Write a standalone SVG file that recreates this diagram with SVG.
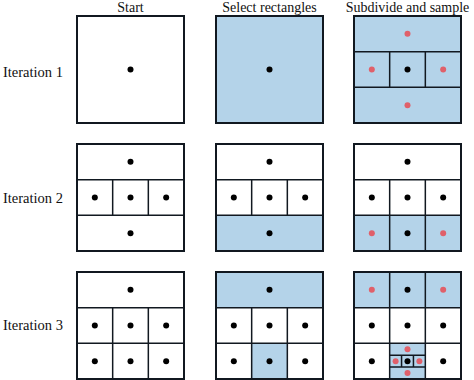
<svg xmlns="http://www.w3.org/2000/svg" width="474" height="380" viewBox="0 0 474 380">
<style>
  .hdr { text-anchor: middle; }
  .row { text-anchor: end; }
  .box { fill: #ffffff; stroke: #111820; stroke-width: 2; }
  .sel { fill: #b4d3e9; stroke: none; }
  .ln { stroke: #111820; stroke-width: 1.5; fill: none; }
  .d { fill: #000; }
  .r { fill: #e0606a; }
</style>
<defs>
  <circle id="bd" r="3" class="d"/>
  <circle id="rd" r="3" class="r"/>
</defs>
<rect width="474" height="380" fill="#fff"/>

<g id="headers" font-family="'Liberation Serif', 'DejaVu Serif', serif" font-size="14" fill="#111">
  <text class="hdr" x="130.5" y="12">Start</text>
  <text class="hdr" x="269.5" y="12">Select rectangles</text>
  <text class="hdr" x="407.5" y="12">Subdivide and sample</text>
</g>
<g id="row-labels" font-family="'Liberation Serif', 'DejaVu Serif', serif" font-size="14.5" fill="#111">
  <text class="row" x="63" y="76.5">Iteration 1</text>
  <text class="row" x="63" y="202.5">Iteration 2</text>
  <text class="row" x="63" y="330">Iteration 3</text>
</g>

<!-- Iteration 1 -->
<g id="it1-start">
  <rect class="box" x="77" y="16" width="107" height="107"/>
  <use href="#bd" x="130.5" y="69.5"/>
</g>
<g id="it1-select">
  <rect class="box" x="216" y="16" width="107" height="107" style="fill:#b4d3e9"/>
  <use href="#bd" x="269.5" y="69.5"/>
</g>
<g id="it1-subdivide">
  <rect class="box" x="354" y="16" width="107" height="107" style="fill:#b4d3e9"/>
  <path class="ln" d="M354 51.67H461M354 87.33H461M389.67 51.67V87.33M425.33 51.67V87.33"/>
  <use href="#rd" x="407.5" y="33.83"/>
  <use href="#rd" x="371.83" y="69.5"/>
  <use href="#bd" x="407.5" y="69.5"/>
  <use href="#rd" x="443.17" y="69.5"/>
  <use href="#rd" x="407.5" y="105.17"/>
</g>

<!-- Iteration 2 -->
<g id="it2-start">
  <rect class="box" x="77" y="144" width="107" height="107"/>
  <path class="ln" d="M77 179.67H184M77 215.33H184M112.67 179.67V215.33M148.33 179.67V215.33"/>
  <use href="#bd" x="130.5" y="161.83"/>
  <use href="#bd" x="94.83" y="197.5"/>
  <use href="#bd" x="130.5" y="197.5"/>
  <use href="#bd" x="166.17" y="197.5"/>
  <use href="#bd" x="130.5" y="233.17"/>
</g>
<g id="it2-select">
  <rect class="box" x="216" y="144" width="107" height="107"/>
  <rect class="sel" x="216" y="215.33" width="107" height="35.67"/>
  <rect class="box" x="216" y="144" width="107" height="107" style="fill:none"/>
  <path class="ln" d="M216 179.67H323M216 215.33H323M251.67 179.67V215.33M287.33 179.67V215.33"/>
  <use href="#bd" x="269.5" y="161.83"/>
  <use href="#bd" x="233.83" y="197.5"/>
  <use href="#bd" x="269.5" y="197.5"/>
  <use href="#bd" x="305.17" y="197.5"/>
  <use href="#bd" x="269.5" y="233.17"/>
</g>
<g id="it2-subdivide">
  <rect class="box" x="354" y="144" width="107" height="107"/>
  <rect class="sel" x="354" y="215.33" width="107" height="35.67"/>
  <rect class="box" x="354" y="144" width="107" height="107" style="fill:none"/>
  <path class="ln" d="M354 179.67H461M354 215.33H461M389.67 179.67V251M425.33 179.67V251"/>
  <use href="#bd" x="407.5" y="161.83"/>
  <use href="#bd" x="371.83" y="197.5"/>
  <use href="#bd" x="407.5" y="197.5"/>
  <use href="#bd" x="443.17" y="197.5"/>
  <use href="#rd" x="371.83" y="233.17"/>
  <use href="#bd" x="407.5" y="233.17"/>
  <use href="#rd" x="443.17" y="233.17"/>
</g>

<!-- Iteration 3 -->
<g id="it3-start">
  <rect class="box" x="77" y="272" width="107" height="107"/>
  <path class="ln" d="M77 307.67H184M77 343.33H184M112.67 307.67V379M148.33 307.67V379"/>
  <use href="#bd" x="130.5" y="289.83"/>
  <use href="#bd" x="94.83" y="325.5"/>
  <use href="#bd" x="130.5" y="325.5"/>
  <use href="#bd" x="166.17" y="325.5"/>
  <use href="#bd" x="94.83" y="361.17"/>
  <use href="#bd" x="130.5" y="361.17"/>
  <use href="#bd" x="166.17" y="361.17"/>
</g>
<g id="it3-select">
  <rect class="box" x="216" y="272" width="107" height="107"/>
  <rect class="sel" x="216" y="272" width="107" height="35.67"/>
  <rect class="sel" x="251.67" y="343.33" width="35.67" height="35.67"/>
  <rect class="box" x="216" y="272" width="107" height="107" style="fill:none"/>
  <path class="ln" d="M216 307.67H323M216 343.33H323M251.67 307.67V379M287.33 307.67V379"/>
  <use href="#bd" x="269.5" y="289.83"/>
  <use href="#bd" x="233.83" y="325.5"/>
  <use href="#bd" x="269.5" y="325.5"/>
  <use href="#bd" x="305.17" y="325.5"/>
  <use href="#bd" x="233.83" y="361.17"/>
  <use href="#bd" x="269.5" y="361.17"/>
  <use href="#bd" x="305.17" y="361.17"/>
</g>
<g id="it3-subdivide">
  <rect class="box" x="354" y="272" width="107" height="107"/>
  <rect class="sel" x="354" y="272" width="107" height="35.67"/>
  <rect class="sel" x="389.67" y="343.33" width="35.67" height="35.67"/>
  <rect class="box" x="354" y="272" width="107" height="107" style="fill:none"/>
  <path class="ln" d="M354 307.67H461M354 343.33H461M389.67 272V379M425.33 272V379"/>
  <path class="ln" d="M389.67 355.22H425.33M389.67 367.11H425.33M401.56 355.22V367.11M413.44 355.22V367.11"/>
  <use href="#rd" x="371.83" y="289.83"/>
  <use href="#bd" x="407.5" y="289.83"/>
  <use href="#rd" x="443.17" y="289.83"/>
  <use href="#bd" x="371.83" y="325.5"/>
  <use href="#bd" x="407.5" y="325.5"/>
  <use href="#bd" x="443.17" y="325.5"/>
  <use href="#bd" x="371.83" y="361.17"/>
  <use href="#rd" x="407.5" y="349.28"/>
  <use href="#rd" x="395.6" y="361.17"/>
  <use href="#bd" x="407.5" y="361.17"/>
  <use href="#rd" x="419.4" y="361.17"/>
  <use href="#rd" x="407.5" y="373.06"/>
  <use href="#bd" x="443.17" y="361.17"/>
</g>
</svg>
